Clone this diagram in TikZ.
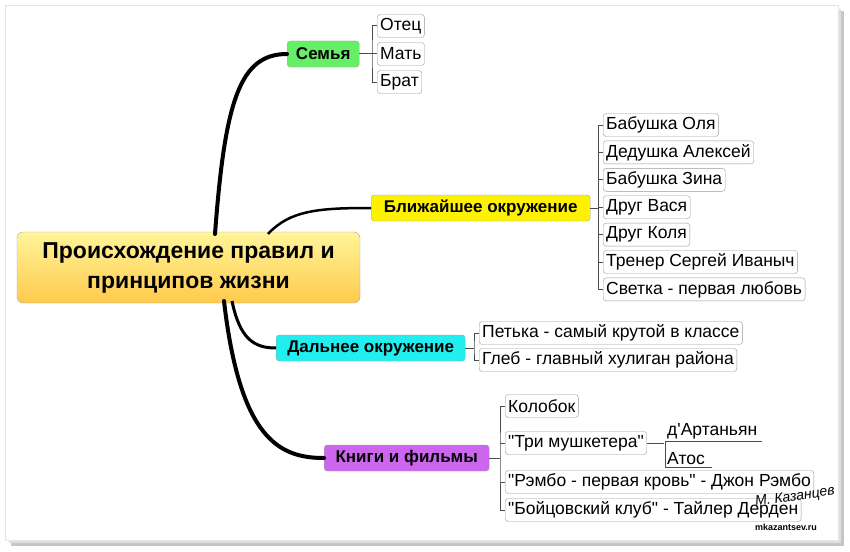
\documentclass[tikz,border=0pt]{standalone}
\usepackage{fontspec}
\defaultfontfeatures{Ligatures=TeXOff}
\setmainfont{Liberation Sans}[Ligatures=TeXOff]
\newcommand{\qq}{"}
\definecolor{catcyan}{HTML}{22EEF0}
\definecolor{catpurple}{HTML}{CC66EE}
\definecolor{catgreen}{HTML}{66EE66}
\begin{document}
\begin{tikzpicture}[x=1pt,y=-1pt,
  leaf/.style={draw=gray!80,rounded corners=3pt,fill=white,anchor=west,inner sep=3pt,minimum height=23pt,font=\fontsize{17.5}{19}\selectfont},
  cat/.style={draw=gray!70,rounded corners=3pt,inner sep=2pt,minimum height=26pt,font=\bfseries\fontsize{17}{19}\selectfont,anchor=west},
  thick branch/.style={line width=4pt,line cap=round},
  thin/.style={line width=1pt,gray!60!black}]
\useasboundingbox (0,0) rectangle (850,551);
% frame with shadow
\fill[gray!45] (11,11) rectangle (844,546);
\fill[gray!25] (9,9) rectangle (841,543);
\fill[white,draw=gray!20] (5,5) rectangle (838,540);
% root
\node[draw=gray!70,rounded corners=6pt,top color=orange!20!yellow!40,bottom color=orange!60!yellow!70,
  minimum width=343pt,minimum height=71pt,align=center,font=\bfseries\fontsize{23}{30}\selectfont] (root) at (188.5,267.5)
  {Происхождение правил и\\принципов жизни};
% categories
\node[cat,fill=catgreen,minimum width=72pt] (c1) at (287,54) {Семья};
\node[cat,fill=yellow,minimum width=219pt] (c2) at (371,208) {Ближайшее окружение};
\node[cat,fill=catcyan,minimum width=189pt] (c3) at (276,348) {Дальнее окружение};
\node[cat,fill=catpurple,minimum width=165pt] (c4) at (324,458) {Книги и фильмы};
% main branches
\coordinate (r1) at (215,234); \coordinate (r2) at (268,234);
\coordinate (r3) at (232,301); \coordinate (r4) at (224,301);
\draw[thick branch] (r1) .. controls (225,100) and (240,54) .. (c1.west);
\draw[line width=2.5pt] (r2) .. controls (290,210) and (320,208) .. (c2.west);
\draw[line width=3pt] (r3) .. controls (240,340) and (255,348) .. (c3.west);
\draw[thick branch] (r4) .. controls (240,440) and (280,458) .. (c4.west);
% family leaves
\node[leaf] (f1) at (377,26) {Отец};
\node[leaf] (f2) at (377,54) {Мать};
\node[leaf] (f3) at (377,82) {Брат};
\coordinate (b1) at (372,54);
\draw[thin] (c1.east) -- (b1);
\draw[thin] (f1.west) -| (b1) |- (f3.west); \draw[thin] (b1) -- (f2.west);
% near leaves
\foreach \t [count=\i] in {Бабушка Оля,Дедушка Алексей,Бабушка Зина,Друг Вася,Друг Коля,Тренер Сергей Иваныч,Светка - первая любовь}
  \node[leaf] (n\i) at (603,{125+27.4*(\i-1)}) {\t};
\coordinate (b2) at (598,208);
\draw[thin] (c2.east) -- (b2);
\draw[thin] (n1.west) -| (b2) |- (n7.west);
\foreach \i in {2,...,6} \draw[thin] (n\i.west) -- (n\i.west -| b2);
% far leaves
\node[leaf] (d1) at (479,333) {Петька - самый крутой в классе};
\node[leaf] (d2) at (479,360) {Глеб - главный хулиган района};
\coordinate (b3) at (474,348);
\draw[thin] (c3.east) -- (b3);
\draw[thin] (d1.west) -| (b3) |- (d2.west);
% books
\node[leaf] (k1) at (505,406) {Колобок};
\node[leaf] (k2) at (505,443) {\qq Три мушкетера\qq};
\node[leaf] (k3) at (505,482) {\qq Рэмбо - первая кровь\qq{} - Джон Рэмбо};
\node[leaf] (k4) at (505,510) {\qq Бойцовский клуб\qq{} - Тайлер Дерден};
\coordinate (b4) at (500,458);
\draw[thin] (c4.east) -- (b4);
\draw[thin] (k1.west) -| (b4) |- (k4.west);
\draw[thin] (k2.west) -- (k2.west -| b4); \draw[thin] (k3.west) -- (k3.west -| b4);
% musketeers
\node[anchor=south west,inner sep=2pt,font=\fontsize{17.5}{19}\selectfont] (m1) at (665,441) {д'Артаньян};
\node[anchor=south west,inner sep=2pt,font=\fontsize{17.5}{19}\selectfont] (m2) at (665,467) {Атос};
\draw[thin] (m1.south west) -- (762,441);
\draw[thin] (m2.south west) -- (712,467);
\coordinate (b5) at (664,443);
\draw[thin] (k2.east) -- (b5);
\draw[thin] (m1.south west) -- (m2.south west);
% signature
\node[font=\itshape\fontsize{14}{14}\selectfont,rotate=8] (sig1) at (795,497) {М. Казанцев};
\node[font=\bfseries\fontsize{9}{9}\selectfont] (sig2) at (786,527) {mkazantsev.ru};
\end{tikzpicture}
\end{document}
